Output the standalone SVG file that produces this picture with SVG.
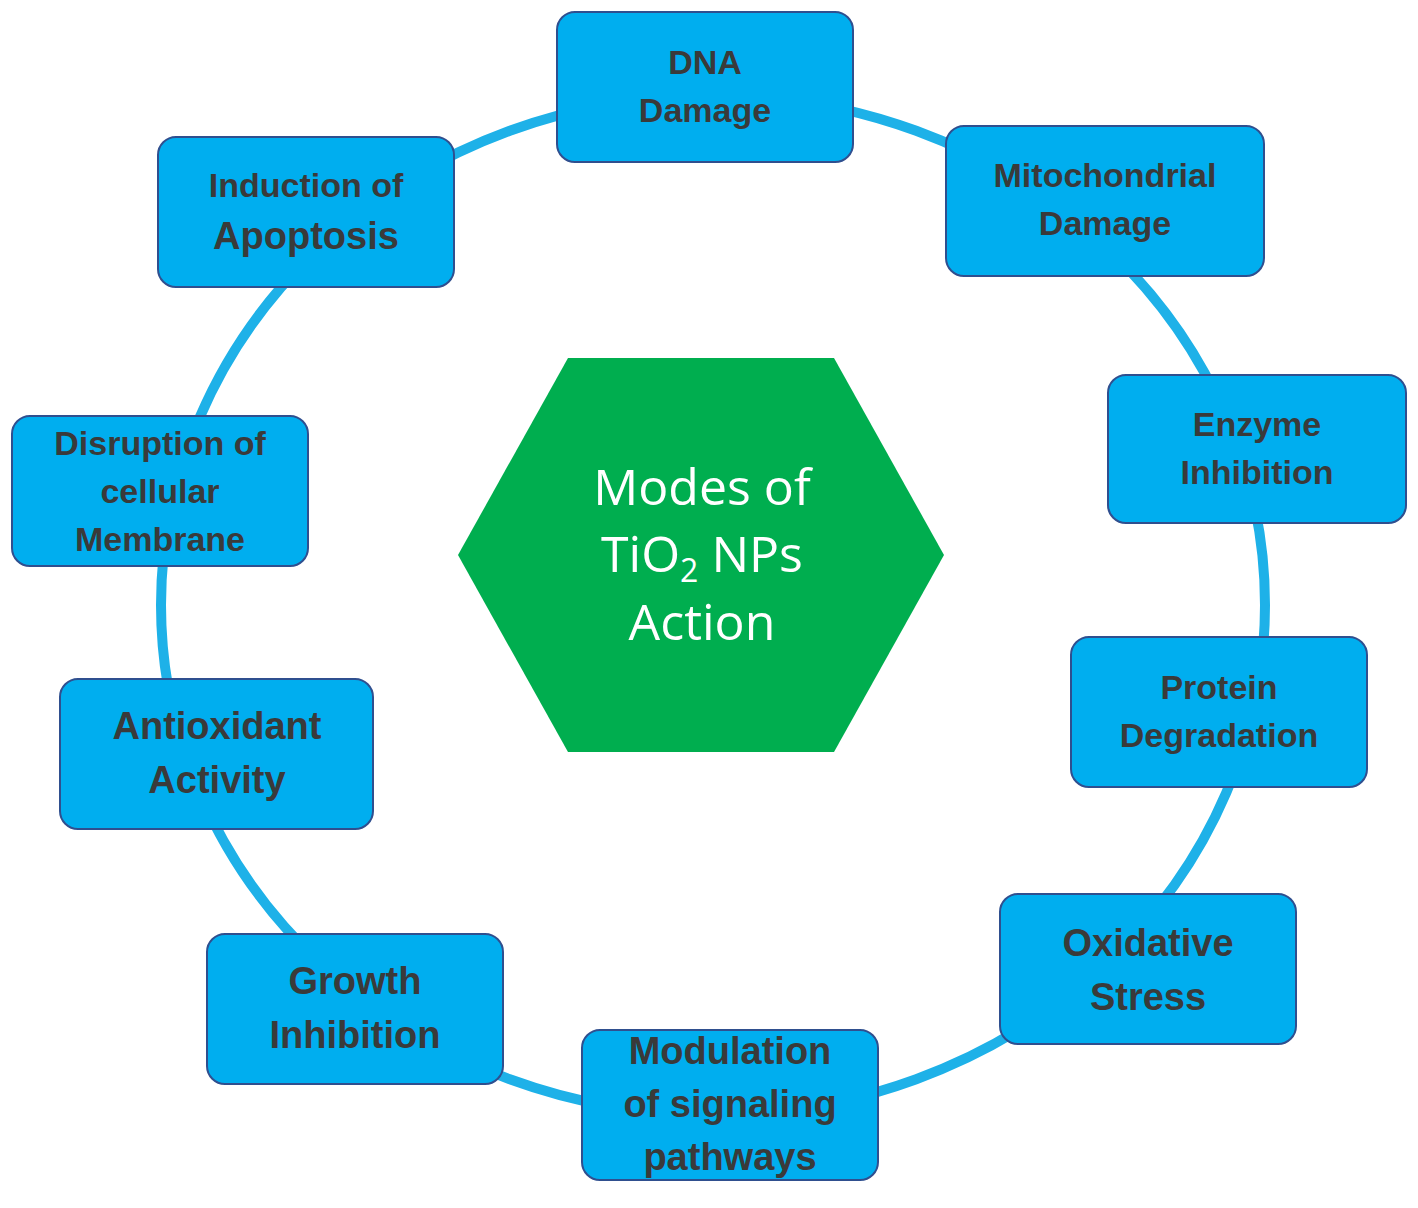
<svg xmlns="http://www.w3.org/2000/svg" width="1418" height="1208" viewBox="0 0 1418 1208">
<style>
.b{fill:#00AEEF;stroke:#2F4F8F;stroke-width:2}
.t{font-family:"Liberation Sans",Arial,sans-serif;font-weight:bold;fill:#3A3A3A;text-anchor:middle}
.c{font-family:"Open Sans","Liberation Sans",sans-serif;fill:#fff;text-anchor:middle;font-size:50px}
</style>
<rect width="1418" height="1208" fill="#fff"/>
<g id="connectors"><ellipse cx="713" cy="605" rx="552" ry="510" fill="none" stroke="#1EB1E8" stroke-width="10"/></g>
<g id="center"><polygon points="458,555 568,358 834,358 944,555 834,752 568,752" fill="#00AE4F"/>
<text class="c" x="702" y="505">Modes of</text>
<text class="c" x="702" y="572">TiO<tspan font-size="32" dy="10">2</tspan><tspan dy="-10"> NPs</tspan></text>
<text class="c" x="702" y="640">Action</text></g>
<g id="n1"><rect class="b" x="557" y="12" width="296" height="150" rx="18"/><text class="t" font-size="34" x="705" y="74">DNA</text><text class="t" font-size="34" x="705" y="122">Damage</text></g>
<g id="n2"><rect class="b" x="946" y="126" width="318" height="150" rx="18"/><text class="t" font-size="34" x="1105" y="187">Mitochondrial</text><text class="t" font-size="34" x="1105" y="235">Damage</text></g>
<g id="n3"><rect class="b" x="1108" y="375" width="298" height="148" rx="18"/><text class="t" font-size="34" x="1257" y="436">Enzyme</text><text class="t" font-size="34" x="1257" y="484">Inhibition</text></g>
<g id="n4"><rect class="b" x="1071" y="637" width="296" height="150" rx="18"/><text class="t" font-size="34" x="1219" y="699">Protein</text><text class="t" font-size="34" x="1219" y="747">Degradation</text></g>
<g id="n5"><rect class="b" x="1000" y="894" width="296" height="150" rx="18"/><text class="t" font-size="38" x="1148" y="956">Oxidative</text><text class="t" font-size="38" x="1148" y="1010">Stress</text></g>
<g id="n6"><rect class="b" x="582" y="1030" width="296" height="150" rx="18"/><text class="t" font-size="38" x="730" y="1064">Modulation</text><text class="t" font-size="38" x="730" y="1117">of signaling</text><text class="t" font-size="38" x="730" y="1170">pathways</text></g>
<g id="n7"><rect class="b" x="207" y="934" width="296" height="150" rx="18"/><text class="t" font-size="38" x="355" y="994">Growth</text><text class="t" font-size="38" x="355" y="1048">Inhibition</text></g>
<g id="n8"><rect class="b" x="60" y="679" width="313" height="150" rx="18"/><text class="t" font-size="38" x="217" y="739">Antioxidant</text><text class="t" font-size="38" x="217" y="793">Activity</text></g>
<g id="n9"><rect class="b" x="12" y="416" width="296" height="150" rx="18"/><text class="t" font-size="34" x="160" y="455">Disruption of</text><text class="t" font-size="34" x="160" y="503">cellular</text><text class="t" font-size="34" x="160" y="551">Membrane</text></g>
<g id="n10"><rect class="b" x="158" y="137" width="296" height="150" rx="18"/><text class="t" font-size="34" x="306" y="197">Induction of</text><text class="t" font-size="38" x="306" y="249">Apoptosis</text></g>
</svg>
